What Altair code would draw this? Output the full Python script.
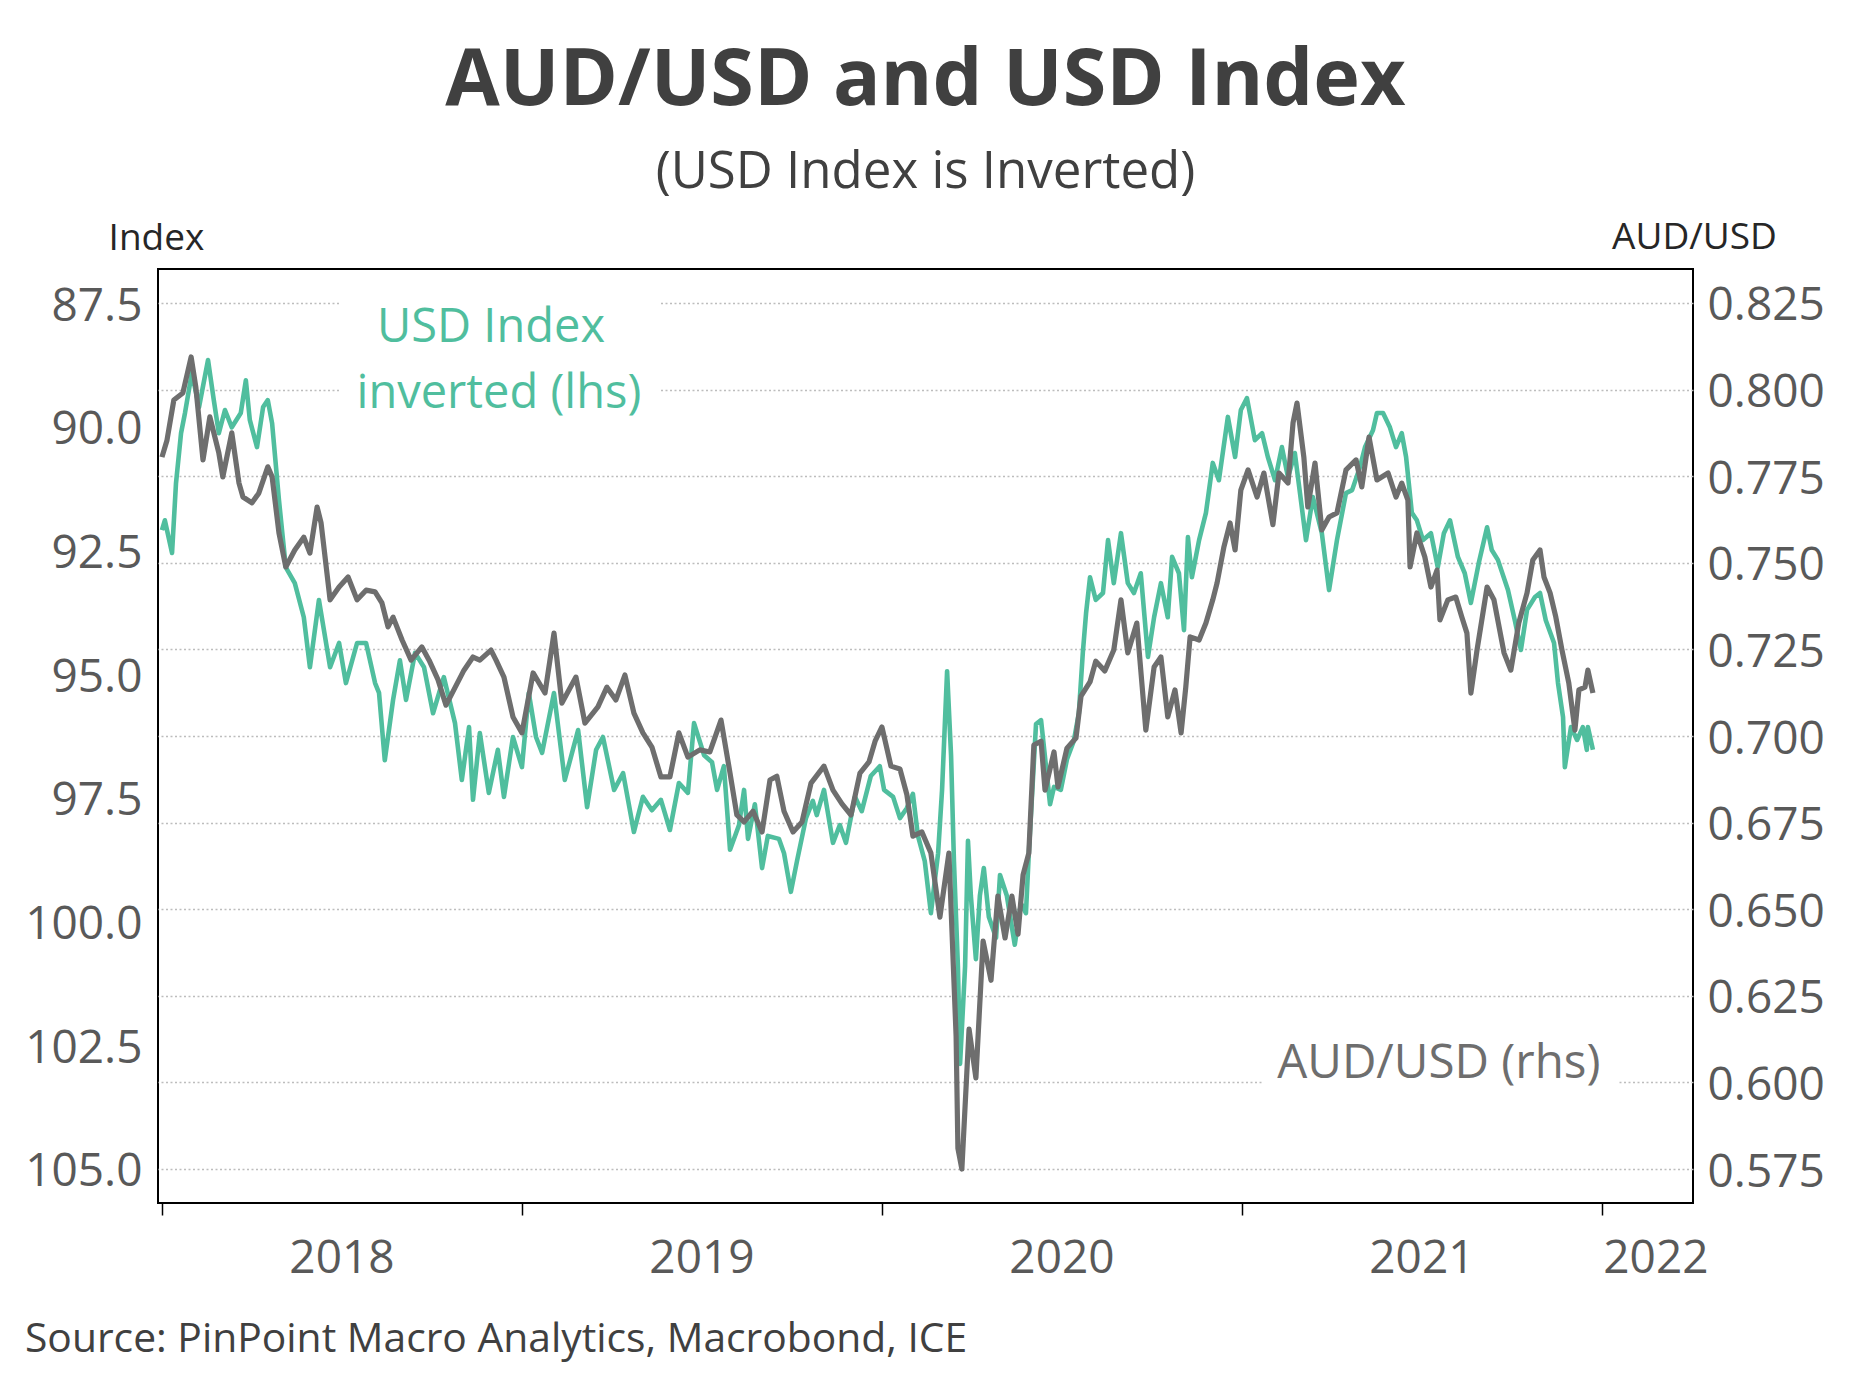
import altair as alt
import pandas as pd

# ---------------- data ----------------
# time as decimal years since 2018-01-01
aud_t = [0.000,0.014,0.033,0.058,0.081,0.094,0.114,0.133,0.158,0.169,0.194,0.214,0.225,0.250,0.269,0.294,0.306,0.325,0.344,0.369,
         0.394,0.411,0.431,0.442,0.467,0.492,0.517,0.542,0.567,0.592,0.611,0.628,0.642,0.667,0.692,0.722,0.742,0.767,0.789,0.839,
         0.864,0.883,0.914,0.928,0.950,0.975,1.000,1.031,1.064,1.089,1.111,1.150,1.175,1.211,1.236,1.261,1.286,1.311,1.336,1.361,
         1.386,1.411,1.436,1.461,1.494,1.522,1.553,1.578,1.597,1.617,1.642,1.667,1.689,1.708,1.728,1.753,1.778,1.803,1.839,1.864,
         1.889,1.914,1.939,1.964,1.981,2.000,2.025,2.050,2.069,2.086,2.111,2.136,2.161,2.186,2.206,2.211,2.222,2.242,2.261,2.281,
         2.303,2.322,2.342,2.361,2.378,2.392,2.408,2.422,2.442,2.453,2.478,2.489,2.514,2.539,2.553,2.578,2.594,2.619,2.644,2.664,
         2.683,2.708,2.733,2.756,2.775,2.794,2.814,2.831,2.844,2.856,2.881,2.900,2.919,2.931,2.950,2.967,2.981,2.997,3.017,3.042,
         3.061,3.086,3.103,3.128,3.142,3.153,3.172,3.183,3.203,3.222,3.242,3.264,3.289,3.317,3.333,3.353,3.375,3.406,3.428,3.444,
         3.461,3.467,3.486,3.508,3.525,3.542,3.550,3.572,3.594,3.611,3.625,3.636,3.653,3.681,3.700,3.728,3.747,3.769,3.792,3.808,
         3.828,3.839,3.856,3.872,3.889,3.908,3.925,3.936,3.953,3.961,3.975]
aud_v = [0.7805,0.7854,0.7970,0.7990,0.8094,0.8008,0.7797,0.7921,0.7817,0.7748,0.7875,0.7730,0.7690,0.7673,0.7701,0.7777,0.7748,0.7586,0.7488,0.7537,
         0.7574,0.7528,0.7661,0.7615,0.7393,0.7430,0.7459,0.7393,0.7421,0.7416,0.7384,0.7315,0.7343,0.7277,0.7219,0.7257,0.7219,0.7162,0.7089,0.7190,
         0.7228,0.7219,0.7248,0.7219,0.7170,0.7055,0.7009,0.7182,0.7124,0.7297,0.7095,0.7170,0.7037,0.7084,0.7141,0.7104,0.7176,0.7066,0.7009,0.6968,
         0.6882,0.6882,0.7009,0.6939,0.6960,0.6954,0.7046,0.6893,0.6772,0.6752,0.6783,0.6723,0.6873,0.6884,0.6783,0.6723,0.6752,0.6864,0.6913,0.6844,
         0.6804,0.6772,0.6893,0.6925,0.6985,0.7026,0.6913,0.6905,0.6832,0.6711,0.6723,0.6662,0.6477,0.6662,0.6134,0.5810,0.5750,0.6154,0.6013,0.6408,
         0.6295,0.6538,0.6417,0.6538,0.6428,0.6599,0.6662,0.6974,0.6985,0.6844,0.6954,0.6853,0.6965,0.6994,0.7115,0.7156,0.7216,0.7188,0.7248,0.7393,
         0.7240,0.7326,0.7017,0.7199,0.7228,0.7055,0.7133,0.7009,0.7141,0.7286,0.7277,0.7326,0.7393,0.7442,0.7546,0.7615,0.7537,0.7710,0.7768,0.7690,
         0.7759,0.7610,0.7759,0.7730,0.7904,0.7961,0.7805,0.7661,0.7788,0.7595,0.7632,0.7644,0.7768,0.7797,0.7719,0.7863,0.7739,0.7759,0.7690,0.7730,
         0.7681,0.7488,0.7586,0.7517,0.7430,0.7479,0.7335,0.7393,0.7401,0.7343,0.7297,0.7124,0.7248,0.7430,0.7393,0.7240,0.7190,0.7326,0.7413,0.7508,
         0.7537,0.7459,0.7413,0.7343,0.7248,0.7153,0.7017,0.7133,0.7141,0.7190,0.7124]

usd_t = [0.000,0.008,0.028,0.039,0.053,0.064,0.083,0.103,0.128,0.144,0.158,0.175,0.194,0.219,0.233,0.244,0.264,0.281,0.294,0.306,
         0.325,0.344,0.369,0.394,0.411,0.436,0.467,0.492,0.511,0.542,0.567,0.592,0.603,0.619,0.642,0.661,0.678,0.703,0.728,0.753,
         0.783,0.814,0.833,0.853,0.864,0.883,0.908,0.933,0.950,0.975,1.000,1.019,1.039,1.056,1.089,1.119,1.156,1.181,1.206,1.225,
         1.256,1.281,1.311,1.336,1.361,1.386,1.411,1.436,1.461,1.478,1.506,1.528,1.542,1.561,1.578,1.603,1.617,1.628,1.647,1.667,
         1.683,1.714,1.728,1.747,1.764,1.789,1.808,1.819,1.839,1.864,1.883,1.900,1.925,1.944,1.969,1.994,2.006,2.031,2.050,2.069,
         2.086,2.100,2.119,2.136,2.156,2.167,2.181,2.192,2.200,2.211,2.217,2.231,2.239,2.247,2.261,2.272,2.283,2.297,2.317,2.328,
         2.347,2.369,2.386,2.400,2.408,2.428,2.442,2.467,2.478,2.497,2.514,2.533,2.547,2.558,2.567,2.578,2.594,2.614,2.628,2.644,
         2.664,2.683,2.700,2.719,2.739,2.756,2.775,2.794,2.806,2.825,2.839,2.850,2.861,2.881,2.900,2.919,2.936,2.961,2.981,2.997,
         3.014,3.036,3.056,3.072,3.092,3.111,3.128,3.147,3.178,3.197,3.222,3.242,3.264,3.289,3.306,3.328,3.342,3.364,3.375,3.392,
         3.411,3.428,3.444,3.456,3.472,3.486,3.503,3.525,3.544,3.561,3.578,3.600,3.619,3.636,3.658,3.681,3.694,3.711,3.739,3.758,
         3.775,3.792,3.814,3.828,3.844,3.867,3.878,3.892,3.897,3.914,3.931,3.947,3.958,3.961,3.975]
usd_v = [92.09,91.89,92.55,91.14,90.13,89.72,88.91,89.60,88.65,89.46,90.13,89.66,90.01,89.72,89.06,89.86,90.41,89.60,89.46,89.93,
         91.48,92.84,93.16,93.85,94.86,93.50,94.86,94.37,95.18,94.37,94.37,95.18,95.38,96.74,95.52,94.72,95.52,94.57,94.86,95.79,
         95.06,95.99,97.14,96.07,97.54,96.19,97.40,96.53,97.48,96.27,96.88,95.38,96.27,96.59,95.38,97.14,96.13,97.69,96.53,96.27,
         97.34,97.00,98.19,97.48,97.75,97.54,98.15,97.20,97.40,95.99,96.64,96.78,97.34,96.86,98.55,98.05,97.34,98.33,97.63,98.92,
         98.27,98.33,98.62,99.40,98.78,97.91,97.56,97.85,97.34,98.41,98.05,98.41,97.48,97.77,97.06,96.86,97.34,97.48,97.91,97.71,
         97.42,98.27,98.78,99.83,98.62,97.34,94.94,96.64,98.78,100.90,102.88,100.90,98.37,99.48,100.76,99.48,98.92,99.91,100.33,99.06,
         99.48,100.47,99.63,99.83,98.62,96.01,95.93,97.63,97.28,97.34,96.72,96.35,95.79,94.57,93.77,93.04,93.50,93.36,92.29,93.16,
         92.15,93.16,93.36,92.96,94.65,93.85,93.16,93.85,92.63,92.96,94.11,92.23,93.04,92.29,91.74,90.73,91.08,89.80,90.61,89.66,
         89.42,90.27,90.13,90.61,91.08,90.41,91.02,90.53,92.29,91.42,92.15,93.30,92.29,91.34,91.28,90.81,90.41,90.07,89.72,89.72,
         90.01,90.41,90.13,90.61,91.74,91.89,92.29,92.15,92.84,92.15,91.89,92.63,92.96,93.56,92.75,92.03,92.49,92.69,93.30,93.91,
         94.51,93.70,93.44,93.36,93.91,94.37,95.18,95.87,96.88,96.07,96.33,96.07,96.53,96.07,96.53]

year_ticks = [2018, 2019, 2020, 2021, 2022]
year_labels = ["2018", "2019", "2020", "2021", "2022"]
year_label_pos = [2018.5, 2019.5, 2020.5, 2021.5, 2022.15]

usd_ticks = [87.5, 90.0, 92.5, 95.0, 97.5, 100.0, 102.5, 105.0]
aud_ticks = [0.575, 0.600, 0.625, 0.650, 0.675, 0.700, 0.725, 0.750, 0.775, 0.800, 0.825]

usd_ann_text = ["USD Index", "inverted (lhs)"]
usd_ann_t = [2018.914, 2018.936]
usd_ann_v = [88.29, 89.62]
aud_ann_text = ["AUD/USD (rhs)"]
aud_ann_t = [2021.547]
aud_ann_v = [0.6013]

# white boxes behind the annotations (they interrupt the gridlines)
usd_box = {"t": [2018.494], "t2": [2019.386], "v": [87.2], "v2": [89.9]}
aud_box = {"t": [2021.056], "t2": [2022.044], "v": [0.5964], "v2": [0.6122]}

# ---------------- layout / style ----------------
W, H = 1535, 934
FONT = "Open Sans"
GREEN = "#50BE9E"
GREY = "#6E6E6E"

usd_df = pd.DataFrame({"t": [2018 + x for x in usd_t], "v": usd_v})
aud_df = pd.DataFrame({"t": [2018 + x for x in aud_t], "v": aud_v})

x_scale = alt.Scale(domain=[2017.989, 2022.253], nice=False, zero=False)
x_enc = alt.X("t:Q", scale=x_scale,
              axis=alt.Axis(values=year_ticks, labels=False, grid=False, domain=False,
                            ticks=True, tickSize=12, tickColor="#000000", tickWidth=1.5, title=None))

usd_scale = alt.Scale(domain=[86.81, 105.69], reverse=True, nice=False, zero=False)
usd_axis = alt.Axis(orient="left", values=usd_ticks, format=".1f", grid=False, ticks=False, domain=False,
                    labelFont=FONT, labelFontSize=46, labelColor="#595959", labelPadding=16, labelOffset=3,
                    title="Index", titleAngle=0, titleFont=FONT, titleFontSize=37, titleFontWeight="normal",
                    titleColor="#262626", titleX=-2, titleY=-20, titleAlign="center", titleBaseline="alphabetic")

aud_scale = alt.Scale(domain=[0.5652, 0.8348], nice=False, zero=False)
aud_axis = alt.Axis(orient="right", values=aud_ticks, format=".3f", grid=True, gridColor="#BDBDBD",
                    gridDash=[2, 2.5], gridWidth=1.5, ticks=False, domain=False,
                    labelFont=FONT, labelFontSize=46, labelColor="#595959", labelPadding=14, labelOffset=3,
                    title="AUD/USD", titleAngle=0, titleFont=FONT, titleFontSize=37, titleFontWeight="normal",
                    titleColor="#262626", titleX=1, titleY=-21, titleAlign="center", titleBaseline="alphabetic")

usd_bg = alt.Chart(pd.DataFrame(usd_box)).mark_rect(color="white").encode(
    x=alt.X("t:Q", scale=x_scale), x2="t2:Q",
    y=alt.Y("v:Q", scale=usd_scale, axis=usd_axis), y2="v2:Q")
usd_line = alt.Chart(usd_df).mark_line(color=GREEN, strokeWidth=4.6, strokeJoin="round").encode(
    x=x_enc, y=alt.Y("v:Q", scale=usd_scale, axis=usd_axis))
usd_ann = alt.Chart(pd.DataFrame({"t": usd_ann_t, "v": usd_ann_v, "txt": usd_ann_text})).mark_text(
    font=FONT, fontSize=47, color=GREEN, align="center", baseline="alphabetic").encode(
    x=alt.X("t:Q", scale=x_scale), y=alt.Y("v:Q", scale=usd_scale, axis=usd_axis), text="txt:N")
usd_layer = alt.layer(usd_bg, usd_line, usd_ann)

aud_bg = alt.Chart(pd.DataFrame(aud_box)).mark_rect(color="white").encode(
    x=alt.X("t:Q", scale=x_scale), x2="t2:Q",
    y=alt.Y("v:Q", scale=aud_scale, axis=aud_axis), y2="v2:Q")
aud_line = alt.Chart(aud_df).mark_line(color=GREY, strokeWidth=5.2, strokeJoin="round").encode(
    x=x_enc, y=alt.Y("v:Q", scale=aud_scale, axis=aud_axis))
aud_ann = alt.Chart(pd.DataFrame({"t": aud_ann_t, "v": aud_ann_v, "txt": aud_ann_text})).mark_text(
    font=FONT, fontSize=47.5, color=GREY, align="center", baseline="alphabetic").encode(
    x=alt.X("t:Q", scale=x_scale), y=alt.Y("v:Q", scale=aud_scale, axis=aud_axis), text="txt:N")
aud_layer = alt.layer(aud_bg, aud_line, aud_ann)

lines = alt.layer(usd_layer, aud_layer).resolve_scale(y="independent")

year_text = alt.Chart(pd.DataFrame({"t": year_label_pos, "txt": year_labels})).mark_text(
    font=FONT, fontSize=46, color="#595959", align="center", baseline="alphabetic").encode(
    x=alt.X("t:Q", scale=x_scale), y=alt.value(1004), text="txt:N")

title = alt.Chart(pd.DataFrame({"txt": ["AUD/USD and USD Index"]})).mark_text(
    font=FONT, fontSize=79, fontWeight="bold", color="#404040", align="center", baseline="alphabetic").encode(
    x=alt.value(W / 2), y=alt.value(-164), text="txt:N")
subtitle = alt.Chart(pd.DataFrame({"txt": ["(USD Index is Inverted)"]})).mark_text(
    font=FONT, fontSize=51, color="#404040", align="center", baseline="alphabetic").encode(
    x=alt.value(W / 2), y=alt.value(-81), text="txt:N")
source = alt.Chart(pd.DataFrame({"txt": ["Source: PinPoint Macro Analytics, Macrobond, ICE"]})).mark_text(
    font=FONT, fontSize=40.8, color="#404040", align="left", baseline="alphabetic").encode(
    x=alt.value(-133), y=alt.value(1083), text="txt:N")

chart = alt.layer(lines, year_text, title, subtitle, source).properties(
    width=W, height=H,
    padding={"left": 158, "top": 269, "right": 159, "bottom": 186},
    autosize=alt.AutoSizeParams(type="none"),
    background="white",
).configure_view(stroke="#000000", strokeWidth=2)

chart.save("out.html", embed_options={"renderer": "svg", "actions": False})
